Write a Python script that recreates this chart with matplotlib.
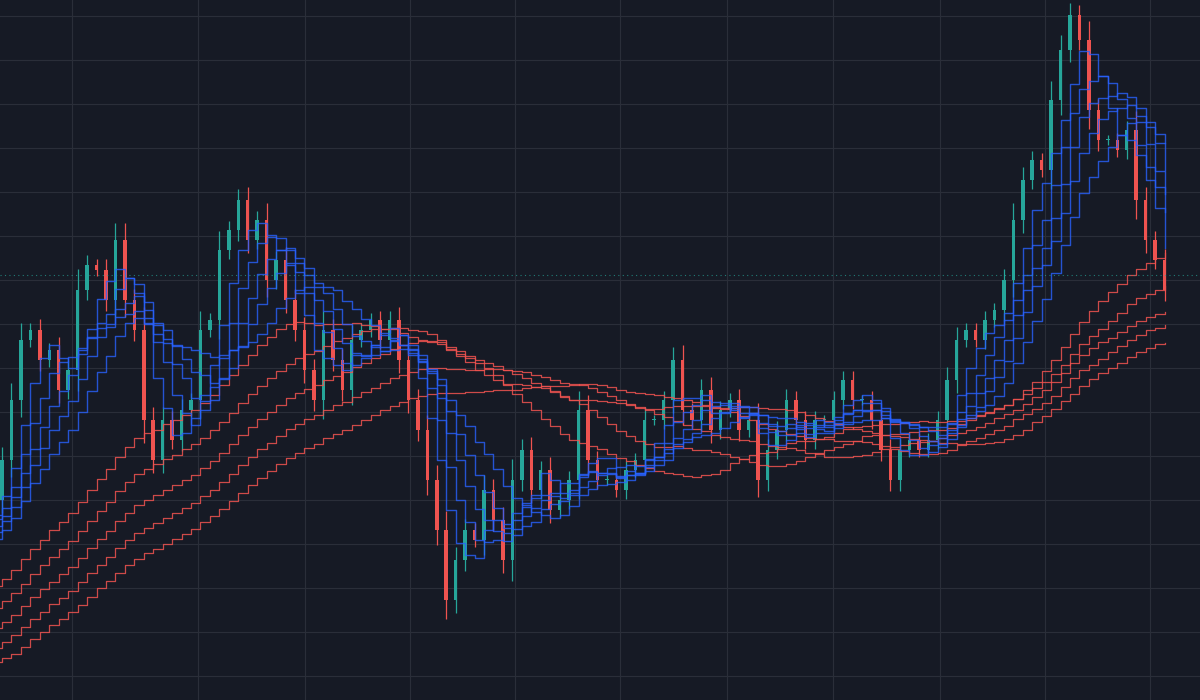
import numpy as np, pandas as pd, matplotlib
matplotlib.use("Agg")
import matplotlib.pyplot as plt

# earlier closes (left of the visible window)
pre_closes = [-90,-85,-100,-80,-75,-90,-70,-65,-80,-60,-50,-65,-45,-40,-55,-30,-25,-40,-20,-10,
              -25,-5,0,-15,10,15,0,25,30,15,40,45,30,55,60,50,70,80,65,90,
              95,85,110,115,100,125,130,120,140,145,135,155,160,150,170,175,165,185,190,200]
closes = [240,300,360,370,340,350,310,330,410,435,430,400,460,400,370,280,240,280,260,290,
          300,370,380,450,470,500,460,480,420,440,400,370,330,300,370,340,310,360,370,380,
          360,380,340,300,270,220,170,100,140,170,160,210,180,140,220,250,210,230,190,200,
          220,290,240,220,220,210,230,240,280,280,300,340,290,280,310,270,290,300,270,280,
          220,250,270,300,280,260,280,280,300,320,300,300,280,250,220,250,260,250,260,280,
          320,360,370,360,380,390,420,480,520,540,530,600,650,685,660,590,560,560,550,570,
          500,460,440,410]
blue_windows = [4, 6, 8, 10, 13]
red_windows = [30, 38, 46, 54, 62]

bg = "#161a25"
fig = plt.figure(figsize=(12, 7), dpi=100, facecolor=bg)
ax = fig.add_axes([0, 0, 1, 1], facecolor=bg)
allc = np.array(pre_closes + closes, dtype=float)
n0 = len(pre_closes)
step = 1172 / len(closes)
x = (np.arange(len(allc)) - n0) * step + 2
s = pd.Series(allc)
opens = np.concatenate([[allc[0]], allc[:-1]])
for i in range(n0, len(allc)):
    o, c = opens[i], allc[i]
    col = "#26a69a" if c >= o else "#ef5350"
    body = max(abs(c - o), 1.5)
    w = 0.2 * body + 5
    ax.vlines(x[i], min(o, c) - w, max(o, c) + w, color=col, lw=0.9)
    ax.bar(x[i], body, bottom=min(o, c), width=3.5, color=col)

for w in red_windows:
    ax.plot(x, s.rolling(w, min_periods=1).mean(), color="#ef5350", lw=0.9, alpha=0.85, drawstyle="steps-post")
for w in blue_windows:
    ax.plot(x, s.rolling(w, min_periods=1).mean(), color="#2962ff", lw=1.0, alpha=0.8, drawstyle="steps-post")
ax.axhline(closes[-1] + 15, color="#26a69a", lw=0.8, ls=(0, (1, 3)), alpha=0.7)

ax.set_xlim(0, 1200)
ax.set_ylim(0, 700)
for gx in [72, 198, 305, 410, 515, 620, 727, 833, 940, 1045, 1150]:
    ax.axvline(gx, color="#2a2e39", lw=0.8, zorder=0)
for gy in range(24, 700, 44):
    ax.axhline(gy, color="#2a2e39", lw=0.8, zorder=0)
ax.axis("off")
fig.savefig("out.png", facecolor=bg)
